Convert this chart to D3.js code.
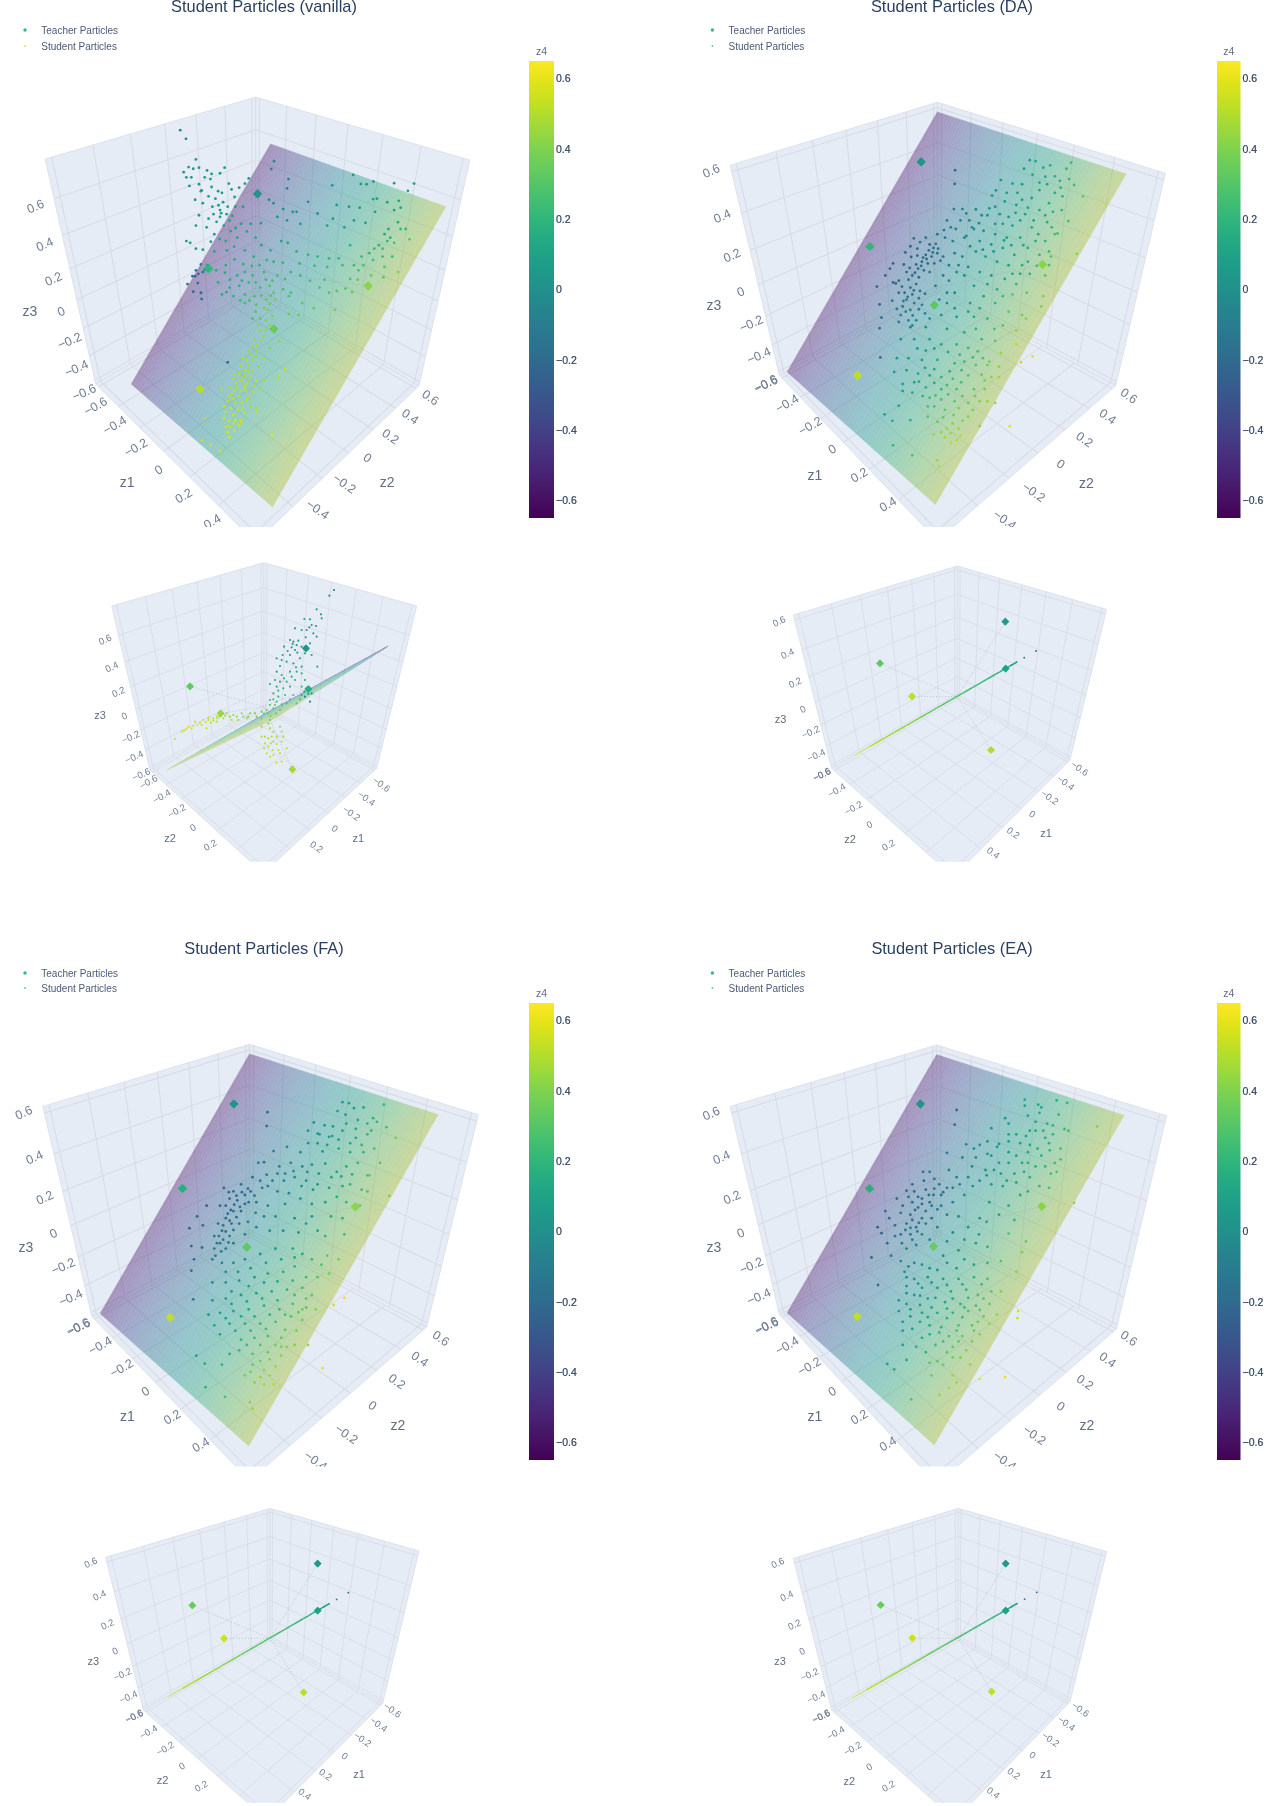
<!DOCTYPE html>
<html>
<head>
<meta charset="utf-8">
<script src="https://cdn.jsdelivr.net/npm/d3@7"></script>
<style>
  html, body { margin: 0; padding: 0; background: #fff; }
  svg { display: block; filter: blur(.35px); }
  text { font-family: "Liberation Sans", Arial, sans-serif; }
</style>
</head>
<body>
<svg id="chart" width="1264" height="1806"></svg>
<script>
// every particle is [position across the view, position down the view, z4]
var vanillaStudents = [
[471,378,-.05],[486,403,-.05],[512,463,.02],[493,485,.02],[480,500,.02],[505,490,.03],[520,487,.03],[541,495,.04],[553,505,.04],[575,503,.05],[587,487,.03],[487,515,.03],[500,515,.03],[535,515,.04],[550,520,.05],[520,535,.04],[495,540,.03],[525,555,.05],[545,570,.06],[570,555,.05],[580,560,.05],[605,550,.05],[625,545,.04],[640,533,.03],[650,518,.02],[510,580,.04],[530,590,.05],[555,600,.07],[575,610,.07],[595,600,.07],[615,600,.08],[635,600,.07],[520,625,.05],[545,635,.07],[575,630,.08],[600,640,.1],[512,655,.05],[540,660,.08],[560,680,.1],[585,655,.1],[630,650,.1],[655,650,.1],[682,648,.1],[487,700,.05],[497,705,.06],[512,722,.05],[530,725,.07],[560,730,.12],[590,700,.13],[620,690,.13],
[716,468,-.02],[709,491,-.02],[754,520,-.02],[750,547,-.02],[868,538,.03],[923,508,.05],[943,534,.05],[958,535,.06],[976,527,.07],[1030,532,.08],[1082,533,.08],[1066,554,.08],[805,586,.02],[880,595,.04],[940,603,.05],[975,578,.07],[985,577,.07],[1012,587,.08],[1042,583,.08],[1047,603,.09],[703,580,0],[715,590,0],[740,607,.01],[765,615,.01],[775,615,.02],[830,620,.03],[912,600,.05],[925,640,.07],[955,647,.08],[980,615,.08],[1030,610,.09],[725,630,.03],[750,640,.04],[785,650,.05],[855,655,.07],[870,635,.06],[900,660,.08],[1015,665,.14],[1040,645,.15],[1060,665,.2],[1005,680,.15],[990,712,.2],[1070,695,.3],[1020,690,.18],
[735,700,.12],[752,705,.13],[775,730,.18],[805,740,.2],[830,745,.2],[860,750,.22],[885,750,.22],[915,712,.2],[945,745,.23],[965,735,.22],[1000,745,.25],[1025,745,.25],[855,775,.25],[895,770,.25],[925,770,.25],[950,770,.27],[975,755,.27],[1005,775,.3],[1040,790,.4],[915,810,.3],[935,812,.33],[970,800,.35],[880,845,.3],[860,850,.3],[835,835,.28],[810,815,.27],[785,800,.25],[760,790,.23],
[490,825,-.2],[510,802,-.2],[518,795,-.2],[530,790,-.15],[525,768,-.05],[543,770,-.02],[505,847,-.2],[525,850,-.2],[527,868,-.2],[565,785,.15],[590,770,.17],[620,800,.18],[640,790,.2],[660,800,.22],[690,790,.22],[715,760,.2],[725,800,.25],[745,810,.25],[570,820,.17],[600,835,.18],[625,830,.2],[650,820,.22],[680,835,.25],[705,830,.3],[715,850,.33],[740,840,.27],[760,850,.27],[580,855,.17],[610,860,.2],[640,855,.22],[665,860,.27],[695,870,.33],[720,870,.37],[755,860,.3],[790,880,.33],[820,895,.35],[875,900,.38],[640,880,.25],[670,885,.3],[700,900,.38],[755,912,.35],[780,915,.35],[660,925,.27],[680,925,.33],[695,930,.4],[705,945,.42],[680,960,.45],[690,975,.45],[665,985,.45],[730,990,.45],
[660,1005,.48],[650,1020,.47],[670,1020,.48],[635,1040,.48],[655,1030,.48],[690,1040,.48],[705,1010,.42],[650,1060,.48],[640,1075,.5],[625,1085,.5],[640,1090,.5],[660,1075,.5],[675,1065,.45],[745,1072,.55],[727,1095,.52],[595,1052,-.25],[610,1100,.5],[630,1105,.5],[650,1105,.5],[670,1105,.52],[690,1105,.5],[600,1125,.5],[620,1125,.52],[640,1125,.53],[665,1120,.5],[605,1145,.52],[625,1150,.53],[645,1160,.53],[595,1165,.53],[615,1170,.53],[635,1185,.55],[670,1185,.5],[670,1195,.52],[655,1180,.48],[590,1195,.55],[610,1205,.55],[630,1220,.55],[535,1215,.53],[590,1240,.56],[610,1230,.55],[625,1235,.56],[595,1255,.57],[600,1270,.58],[710,1265,.6],[528,1278,.55],[550,1292,.55],[575,1310,.56],[600,1240,.55],
[527,553,.05],[553,543,.05],[563,577,.06],[583,587,.07],[571,596,.07],[558,622,.08],[578,619,.07],[566,644,.09],[592,622,.09],[613,572,.07],[598,533,.04],[607,627,.1],[616,662,.11],[603,671,.12],[574,694,.11],[551,702,.1],[593,727,.14],[612,716,.14],[645,672,.13],[668,690,.15],[683,712,.16],[707,727,.18],[640,727,.16],[663,745,.18],[613,753,.17],[588,792,.17],[636,767,.2],[658,772,.2],[678,770,.2],[697,755,.2],[739,763,.2],[783,765,.22],[822,772,.24],[848,812,.27],[903,838,.3],[920,848,.33],[1000,722,.25],[1012,700,.2],[978,722,.23],[937,785,.28],[1002,805,.33],[1030,705,.28],[1047,665,.22],[503,802,-.18],[512,785,-.12],[535,783,-.05],[517,822,-.2],
[601,812,.17],[632,815,.19],[668,820,.24],[695,812,.24],[712,815,.28],[592,848,.17],[628,872,.22],[652,873,.25],[683,858,.3],[705,882,.35],[708,858,.33],[690,895,.37],[668,905,.3],[712,918,.4],[675,945,.42],[695,958,.44],[683,990,.46],[672,1003,.47],[660,1045,.48],[668,1035,.48],[645,1045,.48],[630,1062,.49],[648,1078,.5],[632,1095,.5],[618,1112,.51],[612,1088,.5],[655,1092,.5],[642,1115,.52],[628,1135,.52],[612,1135,.52],[598,1150,.52],[610,1158,.53],[632,1168,.54],[622,1190,.54],[603,1185,.54],[585,1180,.54],[640,1198,.53],[615,1220,.56],[598,1222,.55],[643,1135,.52],[660,1138,.5],[682,1130,.5],[650,1155,.5],[578,1130,.5],[585,1215,.56],[613,1250,.56],[630,1225,.55]
];
var vanillaTeachers = [[673,563,.02],[545,780,.2],[962,830,.42],[716,955,.35],[523,1130,.5]];

var vanillaLowerStudents = [
[822,150,-.1],[808,167,-.1],[770,208,0],[783,223,.02],[733,237,.02],[750,238,.03],[785,235,.03],[755,255,.03],[768,258,.03],[705,265,.03],[725,270,.05],[740,270,.05],[760,280,.05],[770,290,.05],[690,300,.05],[700,305,.05],[710,315,.03],[725,320,.04],[750,310,.04],[672,320,.08],[695,322,.05],[705,330,.05],[735,340,.07],[755,345,.08],[690,345,.1],[720,355,.1],[650,355,.1],[665,360,.1],[680,365,.12],[700,370,.12],[772,380,.1],[725,380,.12],[650,395,.12],[665,405,.15],[690,395,.15],[710,395,.17],[725,400,.17],[645,420,.15],[660,425,.15],[680,425,.2],[705,420,.2],[630,432,.15],[650,440,.17],[670,445,.2],[690,440,.22],[725,440,.2],[740,445,.03],[750,450,.02],[755,460,-.05],[735,470,-.1],[750,485,-.1],[725,465,.17],[640,460,.2],[655,470,.22],[675,465,.25],[700,465,.25],[630,480,.25],[650,485,.28],[680,490,.28],[710,490,.3],[620,510,.35],[640,505,.32],[660,510,.33],
[625,520,.4],[590,530,.38],[605,535,.37],[570,520,.42],[545,520,.45],[520,525,.45],[500,520,.47],[485,520,.48],[478,530,.48],[470,528,.5],[490,535,.5],[515,540,.47],[535,540,.45],[560,535,.42],[460,535,.5],[445,540,.52],[430,540,.53],[420,548,.55],[405,545,.55],[400,558,.55],[385,560,.57],[375,570,.58],[365,575,.58],[440,565,.55],[345,597,.55],
[630,540,.38],[625,550,.4],[630,565,.45],[605,560,.45],[660,560,.45],[665,575,.47],[640,575,.47],[605,590,.5],[625,595,.5],[650,590,.5],[670,590,.5],[615,610,.52],[640,605,.5],[665,605,.5],[625,620,.52],[655,630,.52],[680,625,.5],[620,640,.55],[640,645,.55],[660,640,.52],[650,668,.56],[665,665,.55],
[698,312,.05],[715,302,.04],[737,292,.04],[748,262,.03],[712,338,.06],[742,325,.05],[683,333,.08],[668,345,.1],[660,378,.11],[708,382,.13],[695,410,.16],[672,415,.17],[735,420,.18],[655,452,.18],[640,478,.23],[665,493,.28],[690,478,.27],[720,478,.28],[733,455,.1],[745,462,.0],[645,495,.3],[630,495,.3],[612,520,.36],[632,528,.38],[648,520,.36],[605,515,.34],[585,520,.36],[565,530,.4],[550,530,.43],[530,530,.45],[510,530,.47],[495,527,.48],[482,525,.48],[476,520,.49],[472,535,.5],[460,542,.52],[452,548,.52],[438,547,.54],[425,555,.55],[412,555,.56],[395,565,.57],[380,566,.58],[370,572,.58],[470,545,.52],[445,533,.52],[635,590,.5],[615,590,.5],[633,610,.52],[650,612,.52],[612,625,.54],[638,630,.54],[630,650,.55]
];
var vanillaLowerTeachers = [[738,325,.03],[745,447,.17],[390,439,.33],[697,688,.47],[482,520,.45]];

var daStudents = [
[766,494,-.2],[765,534,-.2],[960,465,.1],[975,468,.12],[1013,480,.17],[1067,472,.22],[1055,490,.2],[995,487,.12],[945,490,.1],[967,507,.1],[1000,513,.13],[1025,512,.17],[885,523,.03],[915,533,.06],[940,535,.08],[985,552,.1],[1040,545,.18],[1075,537,.24],[1098,570,.33],[1025,560,.17],[1045,570,.2],[1010,590,.15],[965,575,.1],[940,580,.07],[900,560,.05],[872,553,.02],[895,585,.04],[925,595,.07],[955,603,.1],[985,610,.13],[1020,615,.18],[870,600,.02],[855,605,.01],[850,625,0],[835,625,-.02],[905,630,.06],[935,640,.08],[970,640,.12],[1005,645,.17],[1060,642,.26],[1025,680,.27],[1032,678,.28],[890,650,.05],[915,655,.07],[870,650,.03],[820,608,-.05],[785,607,-.1],[763,607,-.12],[795,620,-.08],[745,640,-.12],[780,640,-.08],[755,660,-.12],[768,665,-.1],[810,660,-.03],[840,670,0],[870,680,.04],[900,690,.07],[935,690,.12],[965,660,.14],[975,700,.17],[1000,700,.2],[1010,730,.23],[1082,737,.4],
[795,685,-.06],[815,665,-.04],[720,680,-.15],[740,690,-.13],[760,700,-.1],[790,690,-.06],[830,700,-.02],[860,710,.02],[890,720,.05],[920,740,.1],[955,720,.15],[985,740,.2],[955,760,.17],[1010,770,.28],[820,730,0],[845,745,.02],[875,760,.06],[905,770,.1],[935,795,.15],[960,795,.2],[800,775,-.05],[830,790,0],[860,800,.06],[895,810,.12],[925,825,.2],[790,800,-.04],[815,830,.02],[850,825,.07],[765,735,-.1],[775,770,-.08],[750,770,-.1],
[650,715,-.2],[668,722,-.2],[690,690,-.2],[700,710,-.18],[710,720,-.18],[720,735,-.16],[735,745,-.15],[690,740,-.2],[705,745,-.19],[680,760,-.2],[695,765,-.2],[712,765,-.18],[670,780,-.2],[685,785,-.19],[700,790,-.18],[655,800,-.2],[672,805,-.2],[640,790,-.22],[665,825,-.18],[650,835,-.17],[635,850,-.17],[655,855,-.15],[675,845,-.15],[620,815,-.22],[605,820,-.25],[585,800,-.25],[597,780,-.25],[605,765,-.25],[563,832,-.25],[620,850,-.18],[640,870,-.13],[660,880,-.12],[680,885,-.1],[715,830,-.1],[725,870,-.07],[745,850,-.08],[765,850,-.06],[745,880,-.05],[570,884,-.22],[575,922,-.2],[570,953,-.2],[572,1038,-.18],
[630,890,-.12],[650,900,-.1],[625,915,-.1],[645,930,-.08],[665,930,-.07],[700,925,-.05],[730,915,-.02],[770,920,.02],[800,905,.1],[830,895,.15],[870,880,.22],[890,860,.25],[915,855,.3],[940,915,.37],[995,860,.4],[950,925,.4],[925,960,.43],[885,1025,.45],[990,890,.4],[650,950,-.06],[690,950,-.02],[745,955,.05],[790,965,.12],[815,920,.14],[850,925,.2],[890,945,.3],[835,985,.25],[870,990,.33],[625,985,.03],[660,985,.05],[700,985,.08],[730,1000,.12],[770,1000,.18],[800,1010,.22],[825,1020,.27],[855,1050,.37],
[615,1040,.05],[645,1040,.07],[680,1045,.1],[720,1045,.15],[765,1055,.2],[790,1050,.25],[820,1060,.3],[850,1060,.35],[880,1065,.42],[608,1080,.05],[640,1075,.08],[670,1085,.12],[700,1090,.15],[730,1095,.2],[760,1100,.27],[800,1090,.3],[860,1095,.42],[630,1115,.1],[660,1110,.13],[690,1125,.18],[730,1130,.22],[770,1130,.27],[815,1130,.33],[630,1135,.1],[700,1155,.25],[730,1160,.28],[765,1165,.33],[800,1170,.35],[830,1165,.4],[870,1170,.45],[695,1180,.27],[740,1190,.33],[775,1185,.37],[620,1178,.13],[650,1220,.2],[583,1203,.1],[603,1222,.13],[800,1210,.4],[830,1237,.43],[720,1225,.35],[745,1245,.45],[775,1245,.45],[710,1262,.45],[740,1270,.47],[780,1265,.5],[755,1285,.5],[605,1293,.2],[655,1322,.28],[720,1337,.45],[725,1355,.5],[908,1238,.6],[937,1052,.55],[967,1035,.6],
[612,823,-.22],[628,832,-.2],[645,812,-.2],[662,792,-.21],[678,772,-.2],[692,752,-.2],[708,733,-.18],[722,722,-.17],[683,748,-.2],[698,727,-.19],[716,708,-.17],[728,757,-.16],[665,768,-.21],[648,778,-.22],[633,768,-.23],[652,746,-.22],[637,733,-.22],[668,742,-.21],[675,703,-.2],[659,692,-.2],[643,862,-.15],[659,843,-.16],[672,866,-.14],[688,853,-.14],[632,874,-.13],[615,897,-.12],[638,905,-.1],[656,916,-.09],[672,898,-.1],[603,873,-.16],[655,945,-.07],[620,935,-.1],[688,910,-.07],[735,800,-.12],[750,815,-.1],[770,790,-.08],[785,745,-.07],[805,715,-.05],[737,668,-.14],[803,640,-.06],[828,648,-.03],[838,725,0],[866,730,.03],[893,698,.06],[912,712,.08],[943,712,.13],[982,680,.16],[1017,660,.2],[1043,610,.22],[1000,625,.16],[948,622,.1],[923,618,.07],[882,622,.04],[862,568,.02],[928,560,.07],[1005,535,.15],[1062,520,.23],[1038,525,.19],[985,530,.12],
[668,1012,.07],[690,1018,.09],[712,1012,.1],[748,1022,.15],[778,1030,.2],[812,1038,.25],[838,1040,.3],[688,1068,.11],[712,1072,.14],[752,1078,.19],[783,1075,.25],[835,1088,.35],[672,1108,.13],[712,1112,.18],[745,1118,.23],[782,1110,.28],[843,1130,.38],[655,1140,.15],[682,1150,.2],[715,1148,.24],[748,1145,.27],[785,1150,.33],[818,1150,.37],[712,1180,.28],[762,1205,.37],[785,1222,.41],[735,1212,.35],[695,1210,.3],[760,1230,.4],[730,1255,.43],[755,1258,.46],[770,1278,.5],[812,1190,.38],[850,1165,.42],[843,1105,.38],[880,1095,.45],[925,1000,.5],[820,955,.2],[868,955,.28],[905,905,.33],[952,850,.33],[1000,800,.32],[1015,745,.3],[978,772,.25],[940,770,.17],[915,795,.16],[875,840,.17],[840,860,.12],[805,880,.08],[765,895,.03]
];
var daTeachers = [[678,470,.03],[545,716,.2],[993,768,.42],[712,886,.33],[513,1090,.52]];

var faStudents = [
[699,538,-.2],[697,577,-.2],[895,510,.1],[912,513,.12],[1003,517,.22],[950,525,.12],[925,527,.1],[882,535,.08],[903,545,.08],[935,560,.12],[975,555,.2],[820,567,.03],[848,575,.05],[870,578,.06],[895,590,.1],[970,590,.22],[1010,580,.27],[1034,610,.37],[960,600,.2],[930,610,.15],[885,615,.1],[860,607,.07],[835,600,.05],[805,590,.03],[830,625,.05],[855,630,.08],[885,640,.12],[915,650,.17],[945,630,.2],[805,625,.03],[785,650,-.02],[750,635,-.06],[715,647,-.1],[690,678,-.12],[675,680,-.13],[730,690,-.08],[760,680,-.05],[790,690,-.02],[815,685,0],[850,682,.05],[880,705,.1],[905,690,.15],[935,680,.2],[960,715,.28],[993,680,.3],[965,715,.3],[725,710,-.08],[745,710,-.07],[770,720,-.03],[800,730,0],[830,740,.04],[860,750,.08],[895,745,.12],[915,740,.2],[945,755,.25],[660,720,-.16],[680,730,-.14],[700,745,-.12],[725,760,-.08],[755,765,-.05],[785,780,0],[815,795,.04],[850,790,.1],[880,775,.15],[1017,772,.4],[905,790,.22],
[585,750,-.22],[610,760,-.2],[630,740,-.2],[640,770,-.19],[655,760,-.18],[670,790,-.15],[600,780,-.22],[620,785,-.21],[640,795,-.19],[590,800,-.22],[610,815,-.21],[630,815,-.2],[575,800,-.23],[540,800,-.27],[515,830,-.25],[530,855,-.22],[590,835,-.2],[570,850,-.18],[605,850,-.17],[625,850,-.15],[495,863,-.25],[580,870,-.15],[600,885,-.14],[560,885,-.15],[575,905,-.13],[590,920,-.12],[560,920,-.12],[640,880,-.1],[670,860,-.08],[690,830,-.1],[720,830,-.05],[740,870,-.02],[770,835,0],[800,850,.06],[830,870,.1],[850,885,.2],[900,880,.25],[500,913,-.22],[528,917,-.18],[507,950,-.2],[500,982,-.18],
[555,950,-.1],[580,960,-.08],[610,960,-.05],[640,950,-.03],[680,935,0],[720,920,.04],[765,920,.1],[790,935,.15],[815,950,.22],[855,940,.32],[885,950,.38],[555,1015,.02],[590,1015,.04],[625,1010,.05],[665,1000,.07],[700,990,.1],[740,985,.15],[770,970,.2],[830,1000,.3],[860,990,.38],[555,1065,.04],[590,1060,.06],[630,1050,.08],[670,1045,.1],[710,1040,.14],[750,1035,.2],[790,1030,.25],[815,1050,.32],[505,1062,-.15],[545,1105,.05],[575,1100,.08],[610,1095,.1],[650,1090,.13],[690,1080,.17],[730,1090,.22],[765,1075,.27],[800,1085,.33],[825,1090,.4],[560,1135,.1],[600,1130,.12],[640,1130,.15],[680,1130,.2],[720,1125,.25],[760,1110,.3],[790,1120,.37],[575,1160,.13],[630,1175,.2],[665,1170,.24],[700,1165,.28],[735,1170,.33],[770,1190,.4],[805,1190,.45],[625,1205,.22],[660,1215,.3],[700,1210,.35],[735,1220,.42],[600,1215,.18],[580,1245,.2],[513,1220,.08],[535,1242,.12],[660,1245,.35],[690,1260,.42],[720,1250,.45],[640,1275,.4],[680,1280,.45],[665,1295,.43],[690,1300,.47],[715,1300,.5],[537,1308,.2],[588,1335,.28],[653,1350,.42],[660,1368,.45],[843,1255,.6],[872,1078,.55],[900,1058,.6],
[598,762,-.21],[618,772,-.2],[632,762,-.2],[648,752,-.19],[612,797,-.21],[627,803,-.2],[603,812,-.21],[595,822,-.21],[618,832,-.19],[600,842,-.18],[583,855,-.18],[590,872,-.16],[610,868,-.15],[572,885,-.15],[583,895,-.14],[567,905,-.14],[597,903,-.13],[578,928,-.11],[563,940,-.11],[610,905,-.12],[650,790,-.17],[665,772,-.16],[685,750,-.15],[697,713,-.12],[712,730,-.1],[742,730,-.07],[767,703,-.05],[803,705,0],[788,745,-.02],[818,755,.03],[833,710,.03],[866,720,.08],[892,718,.12],[920,712,.17],[950,650,.2],[978,640,.25],[915,625,.15],[868,605,.07],[843,648,.06],[830,598,.04],[905,570,.1],[960,570,.18],[985,565,.22],[930,585,.14],[745,795,-.02],[700,800,-.08],[668,820,-.1],[648,845,-.1],[705,870,-.02],[780,875,.05],[815,830,.06],[865,830,.14],[895,835,.2],[940,800,.3],[960,760,.3],
[590,985,-.02],[622,985,.0],[655,975,.02],[695,960,.04],[735,950,.1],[770,945,.15],[840,965,.3],[605,1040,.05],[650,1025,.07],[690,1015,.1],[725,1012,.13],[765,1010,.2],[800,1000,.25],[605,1075,.08],[645,1068,.11],[685,1060,.14],[725,1065,.19],[770,1050,.25],[800,1060,.3],[590,1115,.1],[630,1110,.13],[665,1110,.17],[705,1105,.2],[745,1105,.26],[780,1098,.33],[615,1150,.15],[655,1150,.2],[695,1145,.25],[745,1148,.32],[775,1150,.37],[645,1190,.25],[680,1190,.3],[720,1190,.36],[750,1195,.4],[680,1235,.37],[705,1230,.4],[655,1265,.38],[705,1275,.46],[735,1195,.38],[790,1090,.36]
];
var faTeachers = [[611,515,.03],[477,752,.17],[929,803,.42],[645,916,.33],[445,1113,.52]];

var eaStudents = [
[770,532,-.2],[765,573,-.2],[947,503,.12],[947,520,.12],[982,517,.14],[990,525,.15],[1030,505,.17],[1057,512,.2],[1035,545,.2],[955,548,.12],[985,540,.15],[896,555,.05],[860,583,.03],[905,570,.06],[975,565,.12],[1005,570,.16],[1050,585,.22],[1060,590,.24],[1135,578,.4],[975,590,.13],[950,605,.1],[1020,600,.18],[1000,610,.15],[905,620,.07],[880,627,.05],[850,655,.03],[830,630,0],[795,628,-.05],[935,625,.1],[960,630,.14],[1010,625,.18],[1040,640,.24],[745,652,-.1],[785,665,-.06],[820,665,-.02],[860,660,.03],[905,650,.08],[925,660,.1],[955,650,.14],[990,660,.18],[1025,680,.25],[1040,670,.27],[880,680,.06],[905,680,.09],[940,680,.14],[975,690,.18],[1000,690,.2],[1030,705,.28],[810,690,-.04],[845,700,0],[885,710,.07],[920,710,.12],[960,720,.17],[750,700,-.1],[770,720,-.08],[800,720,-.05],[830,730,-.01],[860,740,.03],[890,745,.08],[925,735,.13],[955,760,.18],[985,745,.22],[1010,750,.27],[1075,792,.42],
[685,730,-.2],[690,755,-.2],[725,740,-.16],[745,750,-.15],[710,770,-.18],[730,770,-.16],[660,760,-.2],[640,758,-.22],[615,780,-.22],[680,780,-.2],[700,790,-.18],[655,790,-.2],[630,800,-.2],[670,805,-.2],[690,815,-.18],[720,810,-.15],[760,790,-.1],[790,770,-.05],[625,820,-.2],[650,825,-.19],[680,835,-.17],[705,835,-.15],[745,825,-.1],[775,830,-.05],[585,815,-.25],[595,835,-.23],[610,855,-.2],[640,850,-.18],[665,860,-.15],[565,860,-.25],[575,877,-.23],[590,905,-.2],[625,880,-.15],[650,880,-.14],[680,880,-.12],[720,860,-.1],[760,875,-.04],[800,860,.02],[830,835,.05],[855,790,.06],[880,825,.12],[920,840,.2],[905,878,.28],[950,900,.35],[600,940,-.15],[549,945,-.2],[640,920,-.1],[665,910,-.1],[735,940,-.03],[775,925,.02],[820,905,.1],[850,915,.15],[885,955,.3],[925,985,.4],[940,930,.4],
[625,955,-.07],[645,970,-.06],[680,965,-.03],[720,980,0],[770,975,.05],[815,965,.12],[850,960,.2],[640,1000,0],[660,1005,0],[695,1000,.02],[735,1005,.08],[775,1005,.12],[815,1000,.2],[850,1005,.27],[566,1022,-.18],[640,1025,0],[680,1030,.04],[720,1030,.08],[755,1040,.14],[795,1035,.2],[825,1050,.27],[860,1040,.33],[885,1040,.4],[620,1065,.04],[660,1050,.05],[695,1060,.08],[740,1070,.14],[780,1075,.2],[820,1080,.28],[855,1075,.35],[620,1095,.05],[650,1090,.06],[680,1100,.1],[720,1100,.15],[760,1100,.2],[800,1095,.27],[840,1110,.35],[875,1105,.42],[630,1125,.06],[675,1125,.1],[700,1135,.15],[730,1140,.2],[775,1135,.27],[810,1135,.32],[855,1130,.42],[630,1150,.08],[700,1160,.18],[750,1165,.27],[785,1165,.33],[830,1160,.4],[630,1190,.12],[665,1195,.17],[715,1190,.25],[760,1195,.33],[795,1205,.4],[640,1232,.15],[720,1235,.3],[760,1225,.37],[805,1245,.45],[590,1243,.12],[608,1258,.15],[705,1275,.38],[760,1275,.45],[770,1295,.47],[750,1310,.47],[652,1342,.3],[726,1330,.45],[830,1285,.6],[896,1280,.6],[930,1095,.55],[928,1115,.55],
[670,775,-.21],[662,812,-.2],[680,795,-.19],[698,770,-.18],[712,752,-.17],[735,762,-.15],[645,775,-.21],[655,840,-.17],[672,848,-.16],[690,850,-.15],[650,862,-.15],[637,868,-.15],[668,872,-.13],[655,895,-.13],[628,905,-.12],[610,885,-.17],[700,705,-.15],[683,705,-.17],[712,725,-.15],[655,740,-.2],[730,800,-.13],[705,800,-.16],[760,750,-.11],[778,740,-.09],[812,745,-.04],[848,715,.01],[867,700,.04],[900,730,.09],[945,705,.14],[980,640,.17],[1012,645,.2],[960,590,.12],[925,600,.1],[905,600,.08],[875,635,.04],[850,620,.02],[815,640,-.02],[1020,575,.18],[995,590,.16],[955,680,.16],[1015,710,.25],[935,770,.16],[905,800,.15],[848,845,.1],[828,880,.1],[790,895,.03],[745,900,-.04],[700,895,-.07],
[635,985,-.02],[660,960,-.05],[700,975,-.02],[745,960,.02],[790,950,.08],[670,1018,.02],[705,1015,.05],[745,1022,.1],[785,1020,.15],[835,1020,.24],[640,1045,.02],[675,1052,.05],[715,1058,.09],[760,1060,.15],[800,1058,.22],[840,1060,.3],[640,1075,.05],[675,1078,.08],[705,1085,.12],[745,1088,.16],[790,1085,.23],[830,1092,.32],[650,1110,.06],[695,1112,.12],[745,1115,.19],[785,1112,.25],[825,1125,.34],[655,1145,.1],[725,1155,.22],[770,1150,.27],[815,1150,.36],[680,1170,.15],[735,1180,.26],[775,1180,.33],[810,1180,.38],[690,1210,.22],[745,1210,.33],[780,1225,.4],[735,1245,.36],[700,1240,.3]
];
var eaTeachers = [[676,515,.03],[544,752,.17],[991,802,.42],[710,914,.35],[512,1110,.52]];

// position along the edge-on particle line and its z4
var lineT = [0,.02,.05,.08,.1,.12,.15,.17,.2,.22,.25,.28,.3,.33,.35,.38,.4,.43,.45,.48,.5,.53,.55,.58,.6,.63,.65,.68,.7,.73,.75,.78,.8,.82,.84,.865,.893,.935,1];
var daLineZ4 = [.58,.56,.54,.52,.5,.5,.48,.47,.46,.45,.44,.43,.42,.4,.39,.37,.36,.34,.33,.32,.31,.3,.29,.28,.27,.26,.25,.24,.23,.22,.21,.2,.19,.17,.14,.06,0,-.1,-.3];
var faLineZ4 = [.58,.57,.54,.52,.51,.5,.48,.46,.45,.45,.44,.43,.41,.4,.39,.37,.36,.34,.33,.31,.3,.29,.28,.28,.26,.26,.24,.24,.22,.21,.21,.2,.18,.16,.13,.06,0,-.1,-.3];
var eaLineZ4 = [.6,.58,.55,.53,.51,.5,.48,.47,.46,.45,.44,.43,.42,.4,.39,.37,.36,.35,.33,.32,.31,.3,.29,.28,.27,.26,.25,.24,.23,.22,.21,.2,.19,.17,.14,.06,0,-.1,-.3];
var daLowerTeachers = [[796,245,.05],[797,386,.1],[420,370,.33],[516,469,.52],[753,630,.5]];
var faLowerTeachers = [[773,251,.05],[773,392,.1],[397,376,.35],[492,475,.55],[731,637,.52]];
var eaLowerTeachers = [[797,251,.05],[797,392,.1],[422,375,.35],[517,474,.55],[755,635,.52]];

var gridTicks = [-.6,-.4,-.2,0,.2,.4,.6];
var z4Ticks = [-.6,-.4,-.2,0,.2,.4,.6];
var legendNames = ["Teacher Particles", "Student Particles"];

// layout of each subplot, in the units the values above were read in
var scenes = [
  {box:[0,920,1568,1568], px:[0,0,600,540], clip:1530, big:true, z3:[-.63,.8],
   bt:[668,282], lt:[118,462], lb:[250,1115], rt:[1228,465], rb:[1095,1120], bb:[668,845], fb:[668,1575],
   plane:{L:[343,1115],B:[712,1472],R:[1165,600],T:[707,418]}, hub:[690,790],
   students:vanillaStudents, teachers:vanillaTeachers,
   front:"z1", side:"z2",
   z3Labels:[[220,1140],[200,1070],[182,990],[160,905],[140,810],[117,710],[93,600]],
   frontLabels:[[250,1180],[300,1235],[355,1300],[415,1365],[480,1440],[555,1515]],
   sideLabels:[[830,1480],[900,1405],[960,1330],[1020,1268],[1072,1210],[1125,1155]],
   sideTicks:[-.4,-.2,0,.2,.4,.6], frontTicks:[-.6,-.4,-.2,0,.2,.4],
   titles:[[78,902],[332,1400],[1012,1400]]},
  {box:[0,920,1200,1020], px:[60,540,400,340], clip:965, big:false, z3:[-.63,.8],
   bt:[612,68], lt:[155,198], lb:[270,690], rt:[1070,198], rb:[950,685], bb:[612,505], fb:[610,1000],
   plane:{L:[618,520],B:[320,690],R:[640,538],T:[985,318]}, hub:[612,500],
   students:vanillaLowerStudents, teachers:vanillaLowerTeachers,
   front:"z2", side:"z1",
   z3Labels:[[243,703],[222,650],[212,590],[193,527],[175,455],[155,380],[135,298]],
   frontLabels:[[265,725],[305,768],[350,812],[398,862],[450,915]],
   sideLabels:[[770,920],[825,865],[875,820],[920,775],[965,733]],
   sideTicks:[.2,0,-.2,-.4,-.6], frontTicks:[-.6,-.4,-.2,0,.2],
   titles:[[120,525],[330,893],[895,893]]},
  {box:[660,920,1568,1568], px:[660,0,604,540], clip:1530, big:true, z3:[-.63,.63],
   bt:[720,297], lt:[182,480], lb:[310,1090], rt:[1312,503], rb:[1183,1120], bb:[720,840], fb:[720,1570],
   plane:{L:[330,1080],B:[715,1465],R:[1210,505],T:[720,325]}, hub:[720,835],
   students:daStudents, teachers:daTeachers,
   front:"z1", side:"z2",
   z3Labels:[[275,1115],[257,1033],[237,940],[210,848],[187,742],[162,628],[133,497]],
   frontLabels:[[275,1115],[330,1172],[390,1237],[447,1305],[517,1380],[592,1465]],
   sideLabels:[[895,1510],[970,1430],[1040,1348],[1102,1277],[1162,1210],[1217,1150]],
   sideTicks:[-.4,-.2,0,.2,.4,.6], frontTicks:[-.6,-.4,-.2,0,.2,.4],
   titles:[[140,885],[402,1380],[1107,1403]]},
  {box:[660,920,1200,1020], px:[740,540,400,340], clip:965, big:false, z3:[-.63,.63],
   bt:[652,78], lt:[160,225], lb:[275,685], rt:[1100,208], rb:[990,660], bb:[652,470], fb:[640,1010],
   hub:[652,470], teachers:daLowerTeachers, lineZ4:daLineZ4, lineEnds:[[345,645],[888,333]],
   front:"z2", side:"z1",
   z3Labels:[[245,703],[228,645],[212,575],[188,507],[165,427],[142,340],[117,243]],
   frontLabels:[[245,703],[290,750],[340,803],[388,853],[445,915]],
   sideLabels:[[760,938],[820,878],[877,822],[930,772],[978,728],[1020,685]],
   sideTicks:[.4,.2,0,-.2,-.4,-.6], frontTicks:[-.6,-.4,-.2,0,.2],
   titles:[[122,537],[330,897],[918,880]]},
  {box:[0,920,1568,1568], px:[0,920,600,560], clip:1530, big:true, z3:[-.63,.63],
   bt:[652,348], lt:[112,522], lb:[240,1110], rt:[1250,545], rb:[1115,1140], bb:[652,878], fb:[652,1570],
   plane:{L:[262,1102],B:[650,1473],R:[1145,545],T:[652,375]}, hub:[652,875],
   students:faStudents, teachers:faTeachers,
   front:"z1", side:"z2",
   z3Labels:[[205,1140],[185,1058],[165,970],[140,878],[117,778],[90,665],[62,540]],
   frontLabels:[[205,1140],[262,1192],[318,1255],[380,1320],[450,1392],[525,1470]],
   sideLabels:[[825,1515],[905,1440],[973,1360],[1037,1293],[1097,1230],[1152,1172]],
   sideTicks:[-.4,-.2,0,.2,.4,.6], frontTicks:[-.6,-.4,-.2,0,.2,.4],
   titles:[[68,915],[333,1390],[1040,1413]]},
  {box:[0,920,1200,978], px:[60,1480,400,326], clip:968, big:false, z3:[-.63,.63],
   bt:[630,85], lt:[137,232], lb:[250,690], rt:[1077,213], rb:[968,670], bb:[630,475], fb:[620,1020],
   hub:[630,475], teachers:faLowerTeachers, lineZ4:faLineZ4, lineEnds:[[325,650],[865,338]],
   front:"z2", side:"z1",
   z3Labels:[[222,708],[205,650],[187,582],[165,512],[142,432],[118,345],[92,247]],
   frontLabels:[[222,708],[265,755],[315,805],[365,858],[423,918]],
   sideLabels:[[735,942],[797,883],[855,828],[908,778],[957,733],[998,690]],
   sideTicks:[.4,.2,0,-.2,-.4,-.6], frontTicks:[-.6,-.4,-.2,0,.2],
   titles:[[100,542],[308,900],[897,883]]},
  {box:[660,920,1568,1568], px:[660,920,604,560], clip:1530, big:true, z3:[-.63,.63],
   bt:[718,350], lt:[182,522], lb:[310,1105], rt:[1315,548], rb:[1185,1145], bb:[718,880], fb:[718,1580],
   plane:{L:[330,1100],B:[712,1470],R:[1205,547],T:[718,377]}, hub:[718,875],
   students:eaStudents, teachers:eaTeachers,
   front:"z1", side:"z2",
   z3Labels:[[277,1137],[257,1055],[237,968],[210,877],[187,777],[160,665],[133,542]],
   frontLabels:[[277,1137],[330,1192],[388,1250],[447,1320],[517,1392],[592,1467]],
   sideLabels:[[895,1515],[972,1443],[1040,1362],[1103,1295],[1162,1232],[1217,1172]],
   sideTicks:[-.4,-.2,0,.2,.4,.6], frontTicks:[-.6,-.4,-.2,0,.2,.4],
   titles:[[140,915],[402,1390],[1108,1415]]},
  {box:[660,920,1200,978], px:[740,1480,400,326], clip:968, big:false, z3:[-.63,.63],
   bt:[655,85], lt:[160,235], lb:[275,690], rt:[1100,215], rb:[990,665], bb:[655,475], fb:[645,1020],
   hub:[655,475], teachers:eaLowerTeachers, lineZ4:eaLineZ4, lineEnds:[[335,655],[890,337]],
   front:"z2", side:"z1",
   z3Labels:[[243,708],[228,650],[208,583],[186,513],[163,433],[140,347],[113,248]],
   frontLabels:[[243,708],[287,758],[337,805],[387,860],[445,918]],
   sideLabels:[[760,938],[822,880],[878,825],[932,778],[980,730],[1022,688]],
   sideTicks:[.4,.2,0,-.2,-.4,-.6], frontTicks:[-.6,-.4,-.2,0,.2],
   titles:[[120,543],[328,902],[918,883]]}
];

var panels = [
  {title:"Student Particles (vanilla)", cx:264, ty:12, legendX:25, textX:41.3, legendY:[30,46], bar:[529,554,61,518], studentKey:.55},
  {title:"Student Particles (DA)", cx:952, ty:12, legendX:712.4, textX:728.6, legendY:[30,46], bar:[1217,1240.5,61,518], studentKey:.1},
  {title:"Student Particles (FA)", cx:264, ty:954, legendX:25, textX:41.3, legendY:[973,988], bar:[529,554,1003,1460], studentKey:.1},
  {title:"Student Particles (EA)", cx:952, ty:954, legendX:712.4, textX:728.6, legendY:[973,988], bar:[1217,1240.5,1003,1460], studentKey:.1}
];

var svg = d3.select("#chart");
var defs = svg.append("defs");
var color = d3.scaleSequential(d3.interpolateViridis).domain([-.65, .65]);
var fmt = function(d) { return d === 0 ? "0" : d3.format(".1f")(d); };

// unit square onto a quadrilateral, so the grid keeps its perspective
function quad(p0, p1, p2, p3) {
  var dx1 = p1[0]-p2[0], dx2 = p3[0]-p2[0], sx = p0[0]-p1[0]+p2[0]-p3[0];
  var dy1 = p1[1]-p2[1], dy2 = p3[1]-p2[1], sy = p0[1]-p1[1]+p2[1]-p3[1];
  var det = dx1*dy2-dx2*dy1;
  var g = (sx*dy2-dx2*sy)/det, h = (dx1*sy-sx*dy1)/det;
  var a = p1[0]-p0[0]+g*p1[0], b = p3[0]-p0[0]+h*p3[0], c = p0[0];
  var d = p1[1]-p0[1]+g*p1[1], e = p3[1]-p0[1]+h*p3[1], f = p0[1];
  return function(u, v) {
    var w = g*u+h*v+1;
    return [(a*u+b*v+c)/w, (d*u+e*v+f)/w];
  };
}

var unit = d3.scaleLinear().domain([-.63, .63]).range([0, 1]);

function drawScene(s, i) {
  var x = d3.scaleLinear().domain([0, s.box[2]]).range([s.px[0], s.px[0]+s.px[2]]);
  var y = d3.scaleLinear().domain([0, s.box[3]]).range([s.px[1], s.px[1]+s.px[3]]);
  var P = function(p) { return [x(p[0]), y(p[1])]; };
  var lineGen = d3.line();

  defs.append("clipPath").attr("id", "clip"+i).append("rect")
    .attr("x", s.px[0]).attr("y", s.px[1]).attr("width", s.px[2]).attr("height", y(s.clip)-s.px[1]);
  var g = svg.append("g").attr("clip-path", "url(#clip"+i+")");

  var left = quad(P(s.lb), P(s.bb), P(s.bt), P(s.lt));
  var right = quad(P(s.bb), P(s.rb), P(s.rt), P(s.bt));
  var floor = quad(P(s.lb), P(s.fb), P(s.rb), P(s.bb));
  var zUnit = d3.scaleLinear().domain(s.z3).range([0, 1]);

  // panes
  [[s.lb,s.bb,s.bt,s.lt],[s.bb,s.rb,s.rt,s.bt],[s.lb,s.fb,s.rb,s.bb]].forEach(function(q) {
    g.append("path").attr("d", lineGen(q.map(P))+"Z")
      .attr("fill", "#e5ecf6").attr("stroke", "#d9dde6").attr("stroke-width", .8);
  });

  // grid
  var grid = g.append("g").attr("fill", "none").attr("stroke", "#d8dce5").attr("stroke-width", s.big ? 1.1 : .9);
  gridTicks.forEach(function(t) {
    var u = unit(t), z = zUnit(t);
    grid.append("path").attr("d", lineGen([left(u,0), left(u,1)]));
    grid.append("path").attr("d", lineGen([right(u,0), right(u,1)]));
    grid.append("path").attr("d", lineGen([floor(u,0), floor(u,1)]));
    grid.append("path").attr("d", lineGen([floor(0,u), floor(1,u)]));
    grid.append("path").attr("d", lineGen([left(0,z), left(1,z)]));
    grid.append("path").attr("d", lineGen([right(0,z), right(1,z)]));
  });

  // surface, coloured across z1
  if (s.plane) {
    var surf = quad(P(s.plane.L), P(s.plane.B), P(s.plane.R), P(s.plane.T));
    var strips = d3.range(0, 1, 1/50);
    var stripColor = d3.scaleLinear().domain([0, 1]).range([.05, .92]);
    var shade = function(u) {
      return d3.color(d3.interpolateViridis(stripColor(u))).darker(u > .5 ? u-.5 : 0).formatRgb();
    };
    g.append("g").attr("opacity", .4).selectAll("path").data(strips).join("path")
      .attr("d", function(u) { return lineGen([surf(u,0), surf(u+.02,0), surf(u+.02,1), surf(u,1)])+"Z"; })
      .attr("fill", shade)
      .attr("stroke", shade)
      .attr("stroke-width", .5);
  }

  // teacher links
  g.append("g").selectAll("path").data(s.teachers).join("path")
    .attr("d", function(d) { return lineGen([P(d), P(s.hub)]); })
    .attr("fill", "none").attr("stroke", "#8e96a8").attr("stroke-width", .7)
    .attr("stroke-dasharray", "1 2").attr("opacity", .65);

  // student particles
  if (s.students) {
    g.append("g").selectAll("circle").data(s.students).join("circle")
      .attr("cx", function(d) { return x(d[0]); })
      .attr("cy", function(d) { return y(d[1]); })
      .attr("r", s.big ? 1.4 : 1.05)
      .attr("fill", function(d) { return color(d[2]); });
  }

  // student particles seen edge-on
  if (s.lineZ4) {
    var lx = d3.scaleLinear().domain([0,1]).range([x(s.lineEnds[0][0]), x(s.lineEnds[1][0])]);
    var ly = d3.scaleLinear().domain([0,1]).range([y(s.lineEnds[0][1]), y(s.lineEnds[1][1])]);
    var lg = g.append("g");
    lineT.forEach(function(t, k) {
      if (k < lineT.length-1 && lineT[k+1]-t <= .035) {
        lg.append("path").attr("d", lineGen([[lx(t),ly(t)],[lx(lineT[k+1]),ly(lineT[k+1])]]))
          .attr("stroke", color(s.lineZ4[k])).attr("stroke-width", k < 3 ? .9 : 1.5).attr("fill", "none");
      }
      if (t > .8) {
        lg.append("circle").attr("cx", lx(t)).attr("cy", ly(t)).attr("r", .9).attr("fill", color(s.lineZ4[k]));
      }
    });
  }

  // teacher particles
  var diamond = d3.symbol().type(d3.symbolDiamond2).size(s.big ? 38 : 26);
  g.append("g").selectAll("path").data(s.teachers).join("path")
    .attr("d", diamond)
    .attr("transform", function(d) { return "translate("+x(d[0])+","+y(d[1])+")"; })
    .attr("fill", function(d) { return color(d[2]); })
    .attr("stroke", function(d) { return color(d[2]); })
    .attr("stroke-width", 1.2).attr("stroke-linejoin", "round");

  // tick labels
  var tickSize = s.big ? 12.5 : 9.5;
  function labels(ticks, spots, angle) {
    g.append("g").selectAll("text").data(ticks).join("text")
      .attr("transform", function(d, k) { return "translate("+x(spots[k][0])+","+y(spots[k][1])+") rotate("+angle+")"; })
      .attr("text-anchor", "middle").attr("dominant-baseline", "central")
      .attr("font-size", tickSize).attr("fill", "#6f7d93")
      .text(fmt);
  }
  labels(gridTicks, s.z3Labels, -24);
  labels(s.frontTicks, s.frontLabels, -30);
  labels(s.sideTicks, s.sideLabels, 35);

  // axis titles
  g.append("g").selectAll("text").data(["z3", s.front, s.side]).join("text")
    .attr("x", function(d, k) { return x(s.titles[k][0]); })
    .attr("y", function(d, k) { return y(s.titles[k][1]); })
    .attr("text-anchor", "middle").attr("dominant-baseline", "central")
    .attr("font-size", s.big ? 14 : 11).attr("fill", "#5f6d85")
    .text(function(d) { return d; });
}

scenes.forEach(drawScene);

// titles, legends and colour bars
var stops = d3.range(0, 1.001, .05);
var grad = defs.append("linearGradient").attr("id", "viridisBar").attr("x1", 0).attr("x2", 0).attr("y1", 1).attr("y2", 0);
grad.selectAll("stop").data(stops).join("stop")
  .attr("offset", function(d) { return d; })
  .attr("stop-color", function(d) { return d3.interpolateViridis(d); });

panels.forEach(function(p) {
  svg.append("text").attr("x", p.cx).attr("y", p.ty).attr("text-anchor", "middle")
    .attr("font-size", 16.4).attr("fill", "#2a3f5f").text(p.title);

  legendNames.forEach(function(name, k) {
    svg.append("circle").attr("cx", p.legendX).attr("cy", p.legendY[k]).attr("r", k ? .9 : 1.7)
      .attr("fill", color(k ? p.studentKey : .22)).attr("opacity", k ? .7 : 1);
    svg.append("text").attr("x", p.textX).attr("y", p.legendY[k]).attr("dominant-baseline", "central")
      .attr("font-size", 10).attr("fill", "#4a5a75").text(name);
  });

  svg.append("rect").attr("x", p.bar[0]).attr("y", p.bar[2])
    .attr("width", p.bar[1]-p.bar[0]).attr("height", p.bar[3]-p.bar[2])
    .attr("fill", "url(#viridisBar)");
  svg.append("text").attr("x", (p.bar[0]+p.bar[1])/2).attr("y", p.bar[2]-10).attr("text-anchor", "middle")
    .attr("dominant-baseline", "central").attr("font-size", 10.5).attr("fill", "#5f6d85").text("z4");

  var scale = d3.scaleLinear().domain([-.65, .65]).range([p.bar[3], p.bar[2]]);
  var axis = d3.axisRight(scale).tickValues(z4Ticks).tickSize(0).tickPadding(2).tickFormat(fmt);
  var ag = svg.append("g").attr("transform", "translate("+p.bar[1]+",0)").call(axis);
  ag.select(".domain").remove();
  ag.selectAll("text").attr("font-size", 10.5).attr("fill", "#2a3f5f")
    .attr("stroke", "#2a3f5f").attr("stroke-width", .2)
    .style("font-family", '"Liberation Sans", Arial, sans-serif');
});
</script>
</body>
</html>
